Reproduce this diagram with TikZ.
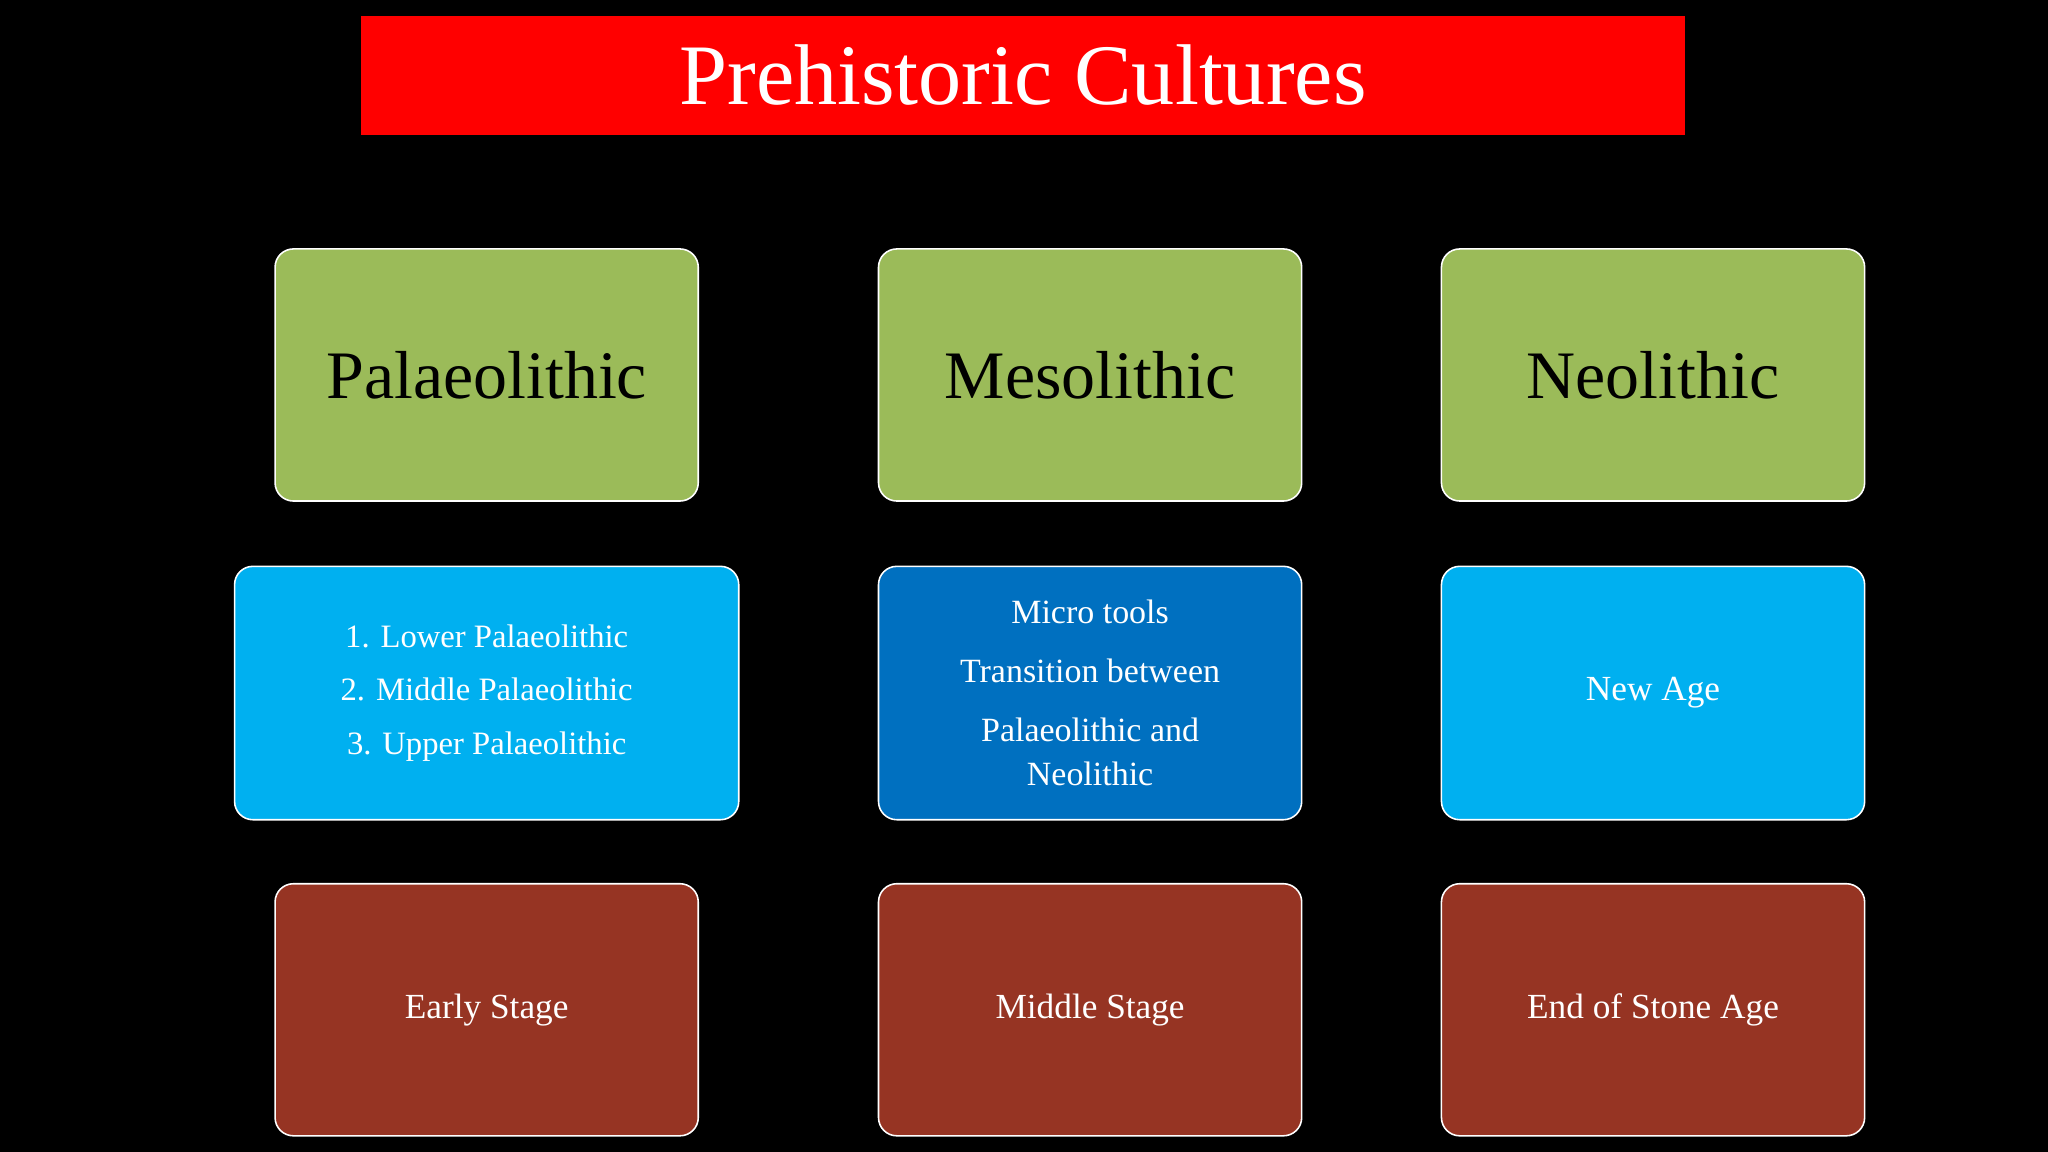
\documentclass[tikz,border=0pt]{standalone}
\usepackage{fontspec}
\setmainfont{Liberation Serif}
\begin{document}
\begin{tikzpicture}[x=1pt,y=-1pt,
  box/.style={draw=white,line width=1.2pt,rounded corners=14pt,anchor=north west,inner sep=0pt,align=center},
  gbox/.style={box,fill=cgreen,text=black,font=\fontsize{52}{56}\selectfont},
  bbox/.style={box,fill=cblue,text=white,font=\fontsize{25}{41}\selectfont},
  rbox/.style={box,fill=cbrown,text=white,font=\fontsize{27}{32}\selectfont},
  bar/.style={line width=28pt}]
\definecolor{cgreen}{HTML}{9BBB59}
\definecolor{cblue}{HTML}{00B0F0}
\definecolor{cdblue}{HTML}{0070C0}
\definecolor{cbrown}{HTML}{963423}
\definecolor{corange}{HTML}{DB8B2F}
\definecolor{clblue}{HTML}{4A9FD0}
\definecolor{cred}{HTML}{C84B2E}
\definecolor{cpurple}{HTML}{7E5BC6}
\fill[black] (0,0) rectangle (1568,882);
\useasboundingbox (0,0) rectangle (1568,882);
\node[fill=red,text=white,minimum width=1014pt,minimum height=91pt,anchor=north west,inner sep=0pt,font=\fontsize{66}{70}\selectfont] (t) at (276,12) {Prehistoric Cultures};
% boxes
\node[gbox,minimum width=324pt,minimum height=193pt] (g1) at (210,190) {Palaeolithic};
\node[gbox,minimum width=324pt,minimum height=193pt] (g2) at (672,190) {Mesolithic};
\node[gbox,minimum width=324pt,minimum height=193pt] (g3) at (1103,190) {Neolithic};
\node[bbox,minimum width=386pt,minimum height=194pt] (b1) at (179,433) {1. Lower Palaeolithic\\2. Middle Palaeolithic\\3. Upper Palaeolithic};
\node[bbox,fill=cdblue,minimum width=324pt,minimum height=194pt,font=\fontsize{26}{34}\selectfont] (b2) at (672,433) {Micro tools\\[11pt]Transition between\\[11pt]Palaeolithic and\\Neolithic};
\node[bbox,minimum width=324pt,minimum height=194pt,font=\fontsize{27}{32}\selectfont] (b3) at (1103,433) {New Age};
\node[rbox,minimum width=324pt,minimum height=193pt] (r1) at (210,676) {Early Stage};
\node[rbox,minimum width=324pt,minimum height=193pt] (r2) at (672,676) {Middle Stage};
\node[rbox,minimum width=324pt,minimum height=193pt] (r3) at (1103,676) {End of Stone Age};
% bars
\begin{scope}[on background layer/.style={}]
\end{scope}
\end{tikzpicture}
\end{document}
